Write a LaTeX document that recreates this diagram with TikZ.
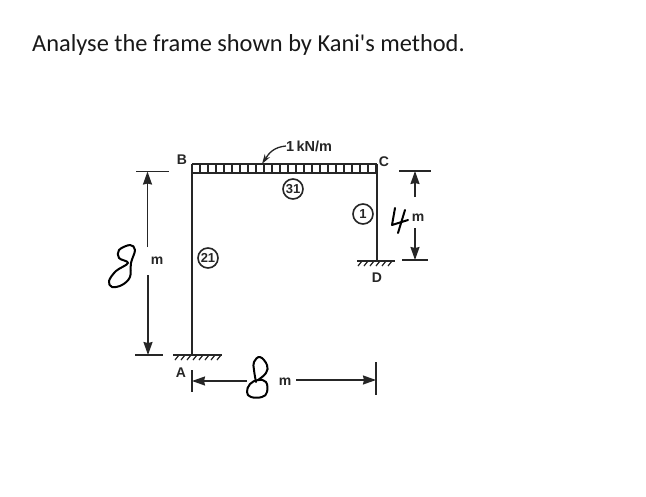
\documentclass[tikz,border=0pt]{standalone}
\usepackage{fontspec}
\setmainfont{Liberation Sans}
\newfontfamily\titlefont{Carlito}
\usetikzlibrary{arrows.meta}
\tikzset{
  member/.style={line width=2.2pt,black!85},
  dim/.style={line width=1.5pt,black!85},
  dimarrow/.style={dim,-{Stealth[length=13pt,width=9pt,inset=1pt]}},
  lbl/.style={inner sep=0pt,font=\fontsize{14}{14}\selectfont\bfseries,text=black!85},
  memcircle/.style={circle,draw=black!85,line width=1.6pt,minimum size=20pt,inner sep=0pt,font=\fontsize{13}{13}\selectfont\bfseries,text=black!85},
  hand/.style={line width=2pt,black,line cap=round,line join=round},
  hatch/.style={line width=1.2pt,black!85}
}
\begin{document}
\begin{tikzpicture}[x=1pt,y=-1pt]
\useasboundingbox (0,0) rectangle (646,496);
\fill[white] (0,0) rectangle (646,496);
\node[anchor=west,inner sep=0pt,font=\titlefont\fontsize{24.4}{24.4}\selectfont,text=black!90] (title) at (32,45) {Analyse the frame shown by Kani's method.};
% frame
\coordinate (A) at (192,355);
\coordinate (B) at (192,173);
\coordinate (C) at (377,173);
\coordinate (D) at (377,262);
\draw[member] (A) -- (B) -- (C) -- (D);
% load
\draw[line width=1.3pt,black!85] (192,164) -- (377,164);
\foreach \x in {192,200,...,376} \draw[line width=1.2pt,black!85] (\x,164) -- (\x,173);
\draw[line width=1.2pt,black!85] (377,164) -- (377,173);
% supports
\draw[line width=1.4pt,black!85] (173,355) -- (222,355);
\foreach \x in {179,185,...,222} \draw[hatch] (\x,355) -- (\x-4,360);
\draw[line width=1.4pt,black!85] (357,261) -- (395,261);
\foreach \x in {362,368,...,395} \draw[hatch] (\x,261) -- (\x-4,266);
% labels
\node[lbl] (lA) at (181,373) {A};
\node[lbl] (lB) at (182,160) {B};
\node[lbl] (lC) at (384,162) {C};
\node[lbl] (lD) at (377,278) {D};
\node[lbl,anchor=west,font=\fontsize{14.5}{14.5}\selectfont\bfseries] (load) at (286,146) {1\,kN/m};
\coordinate (loadpt) at (262,164);
\draw[line width=1.3pt,black!85,{Stealth[length=10pt,width=6pt]}-] (loadpt) .. controls (269,153) and (274,147) .. (load.west);
\node[memcircle] (m31) at (293,189) {31};
\node[memcircle] (m1) at (363,214) {1};
\node[memcircle] (m21) at (208,258) {21};
% left dimension
\coordinate (t1a) at (136,171.5); \coordinate (t1b) at (169,171.5);
\coordinate (t2a) at (135,355); \coordinate (t2b) at (163,355);
\coordinate (l1) at (147.5,171.5); \coordinate (l2) at (148,355);
\coordinate (l1e) at (147.5,247); \coordinate (l2e) at (148,275);
\draw[dim] (t1a) -- (t1b);
\draw[dim] (t2a) -- (t2b);
\draw[dimarrow] (l1e) -- (l1);
\draw[dimarrow] (l2e) -- (l2);
\node[lbl] (m8) at (157,261) {m};
% right dimension
\coordinate (r1a) at (399,171); \coordinate (r1b) at (431,171);
\coordinate (r2a) at (402,260); \coordinate (r2b) at (428,260);
\coordinate (r1) at (415,171); \coordinate (r2) at (415,260);
\coordinate (r1e) at (415,197); \coordinate (r2e) at (415,228);
\draw[dim] (r1a) -- (r1b);
\draw[dim] (r2a) -- (r2b);
\draw[dimarrow] (r1e) -- (r1);
\draw[dimarrow] (r2e) -- (r2);
\node[lbl] (m4) at (418,218) {m};
% bottom dimension
\coordinate (b1a) at (192,370); \coordinate (b1b) at (192,392);
\coordinate (b2a) at (376,362); \coordinate (b2b) at (376,395);
\coordinate (b1) at (192,381); \coordinate (b2) at (376,380);
\coordinate (b1e) at (247,381); \coordinate (b2e) at (296,380);
\draw[dim] (b1a) -- (b1b);
\draw[dim] (b2a) -- (b2b);
\draw[dimarrow] (b1e) -- (b1);
\draw[dimarrow] (b2e) -- (b2);
\node[lbl] (mb) at (285,382) {m};
% handwritten figures
\draw[hand] plot[smooth cycle,tension=.6] coordinates {(119,250)(130,245)(135,250)(131,263)(130,277)(122,285)(112,287)(109,281)(116,271)(128,263)(119,258)};
\draw[hand] plot[smooth,tension=.7] coordinates {(256,382)(254,370)(254,362)(260,357)(267,365)(266,373)(258,380)};
\draw[hand] plot[smooth cycle,tension=.7] coordinates {(258,380)(250,384)(247,392)(251,397)(262,397)(267,392)(266,382)};
\draw[hand] (395,208) -- (392,225) -- (408,220);
\draw[hand] (405,210) -- (398,233);
\end{tikzpicture}
\end{document}
